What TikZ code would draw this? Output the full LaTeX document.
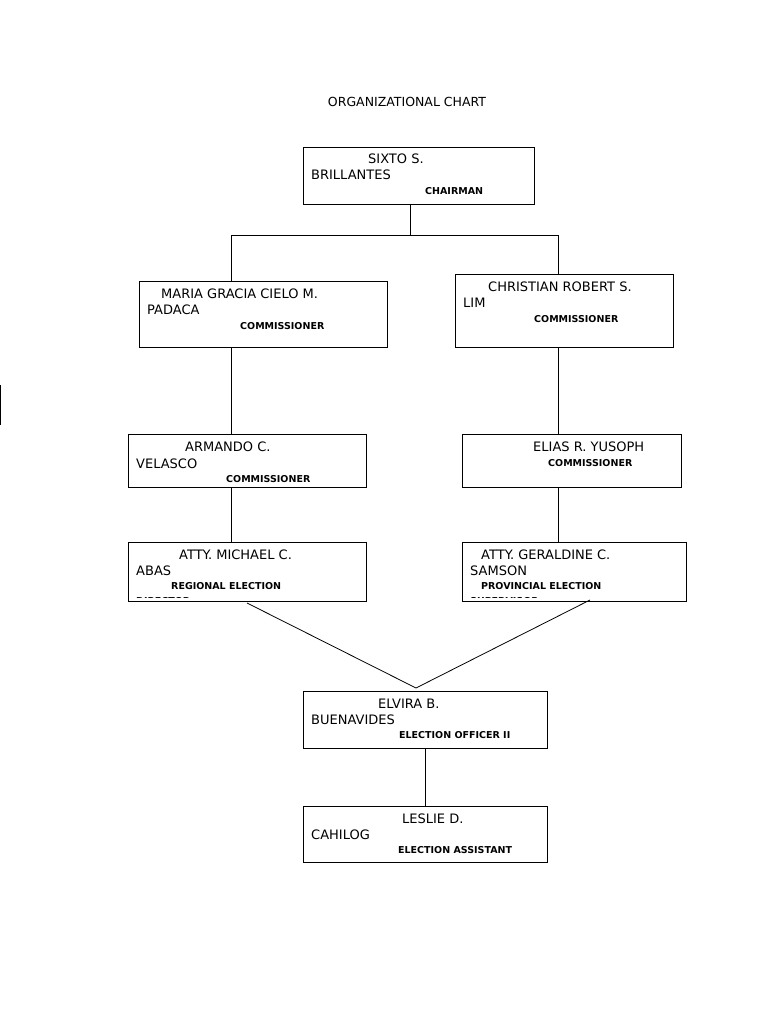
\documentclass[tikz,border=0pt]{standalone}
\usepackage{fontspec}
\setmainfont{DejaVu Sans}
\begin{document}
\begin{tikzpicture}[x=1pt,y=-1pt,
  box/.style={draw,line width=0.8pt},
  t/.style={anchor=base west,inner sep=0,font=\fontsize{13}{13}\selectfont},
  s/.style={anchor=base west,inner sep=0,font=\fontsize{9.5}{9.5}\selectfont\bfseries},
  ln/.style={line width=0.8pt}]
\useasboundingbox (0,0) rectangle (768,1024);
\node[anchor=base,inner sep=0,font=\fontsize{12.5}{12.5}\selectfont] (title) at (407,107) {ORGANIZATIONAL CHART};
\newcommand\mybox[5]{\draw[box] (#2,#3) rectangle (#4,#5); \coordinate (#1n) at ({(#2+#4)/2},#3);}
\draw[box] (303,147) rectangle (534,204);
\node[t] (a1) at (368,164) {SIXTO S.};
\node[t] (a2) at (311,180) {BRILLANTES};
\node[s] (a3) at (425,195) {CHAIRMAN};
\draw[box] (139,281) rectangle (387,347);
\node[t] (b1) at (161,298) {MARIA GRACIA CIELO M.};
\node[t] (b2) at (147,314) {PADACA};
\node[s] (b3) at (240,329) {COMMISSIONER};
\draw[box] (455,274) rectangle (673,347);
\node[t] (c1) at (488,291) {CHRISTIAN ROBERT S.};
\node[t] (c2) at (463,307) {LIM};
\node[s] (c3) at (534,322) {COMMISSIONER};
\draw[box] (128,434) rectangle (366,487);
\node[t] (d1) at (185,451) {ARMANDO C.};
\node[t] (d2) at (136,468) {VELASCO};
\node[s] (d3) at (226,482) {COMMISSIONER};
\draw[box] (462,434) rectangle (681,487);
\node[t] (e1) at (533,451) {ELIAS R. YUSOPH};
\node[s] (e3) at (548,466) {COMMISSIONER};
\begin{scope}
\clip (128,542) rectangle (366,597);
\node[t] (f1) at (179,559) {ATTY. MICHAEL C.};
\node[t] (f2) at (136,575) {ABAS};
\node[s] (f3) at (171,589) {REGIONAL ELECTION};
\node[s] (f4) at (136,604) {DIRECTOR};
\end{scope}
\draw[box] (128,542) rectangle (366,601);
\begin{scope}
\clip (462,542) rectangle (686,597);
\node[t] (g1) at (481,559) {ATTY. GERALDINE C.};
\node[t] (g2) at (470,575) {SAMSON};
\node[s] (g3) at (481,589) {PROVINCIAL ELECTION};
\node[s] (g4) at (470,604) {SUPERVISOR};
\end{scope}
\draw[box] (462,542) rectangle (686,601);
\draw[box] (303,691) rectangle (547,748);
\node[t] (h1) at (378,708) {ELVIRA B.};
\node[t] (h2) at (311,724) {BUENAVIDES};
\node[s] (h3) at (399,738) {ELECTION OFFICER II};
\draw[box] (303,806) rectangle (547,862);
\node[t] (i1) at (402,823) {LESLIE D.};
\node[t] (i2) at (311,839) {CAHILOG};
\node[s] (i3) at (398,853) {ELECTION ASSISTANT};
\coordinate (j) at (416,688);
\draw[ln] (410,204) -- (410,235);
\draw[ln] (231,281) -- (231,235) -- (558,235) -- (558,274);
\draw[ln] (231,347) -- (231,434);
\draw[ln] (558,347) -- (558,434);
\draw[ln] (231,487) -- (231,542);
\draw[ln] (558,487) -- (558,542);
\draw[ln] (247,603) -- (j) -- (590,600);
\draw[ln] (425,748) -- (425,806);
\draw[line width=1.2pt] (0.6,385) -- (0.6,425);
\end{tikzpicture}
\end{document}
